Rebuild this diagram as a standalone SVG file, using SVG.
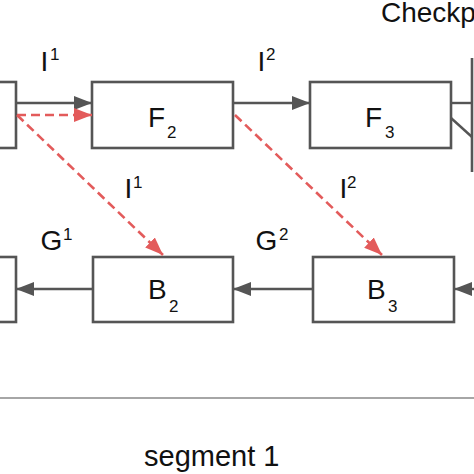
<svg xmlns="http://www.w3.org/2000/svg" width="474" height="474" viewBox="0 0 474 474">
<style>
.box{fill:#fff;stroke:#555;stroke-width:2.6}
.solid{fill:none;stroke:#555;stroke-width:2.4}
.dash{fill:none;stroke:#e35b5b;stroke-width:2.6;stroke-dasharray:9 5}
.lbl{font-family:"Liberation Sans",Arial,sans-serif;font-size:28px;fill:#111}
.sm{font-family:"Liberation Sans",Arial,sans-serif;font-size:17px;fill:#111}
</style>
<defs>
<marker id="ag" markerUnits="userSpaceOnUse" markerWidth="20" markerHeight="14" refX="18" refY="7" orient="auto">
<path d="M0,0 L18,7 L0,14 Z" fill="#555"/>
</marker>
<marker id="ar" markerUnits="userSpaceOnUse" markerWidth="20" markerHeight="14" refX="18" refY="7" orient="auto">
<path d="M0,0 L18,7 L0,14 Z" fill="#e35b5b"/>
</marker>
</defs>
<rect width="474" height="474" fill="#fff"/>
<g id="F1"><rect class="box" x="-10" y="82" width="26" height="66"/></g>
<g id="F2"><rect class="box" x="92" y="82" width="141" height="66"/><text class="lbl" x="148" y="127">F</text><text class="sm" x="167" y="138">2</text></g>
<g id="F3"><rect class="box" x="310" y="82" width="141" height="66"/><text class="lbl" x="365" y="127">F</text><text class="sm" x="385" y="138">3</text></g>
<g id="B1"><rect class="box" x="-10" y="257" width="26" height="65"/></g>
<g id="B2"><rect class="box" x="93" y="257" width="140" height="65"/><text class="lbl" x="148" y="299">B</text><text class="sm" x="169" y="312">2</text></g>
<g id="B3"><rect class="box" x="313" y="257" width="141" height="65"/><text class="lbl" x="367" y="299">B</text><text class="sm" x="388" y="312">3</text></g>
<g id="checkpoint"><line x1="472" y1="58" x2="472" y2="172" stroke="#555" stroke-width="2.6"/><text class="lbl" x="381" y="22" style="font-size:28px">Checkpoint</text></g>
<g id="connectors">
<line class="solid" x1="16" y1="103" x2="92" y2="103" marker-end="url(#ag)"/>
<line class="solid" x1="233" y1="103" x2="310" y2="103" marker-end="url(#ag)"/>
<line class="solid" x1="451" y1="103" x2="472" y2="103"/>
<line class="solid" x1="451" y1="118" x2="472" y2="137"/>
<line class="solid" x1="93" y1="289" x2="16" y2="289" marker-end="url(#ag)"/>
<line class="solid" x1="313" y1="289" x2="233" y2="289" marker-end="url(#ag)"/>
<line class="solid" x1="480" y1="289" x2="454" y2="289" marker-end="url(#ag)"/>
<line class="dash" x1="17" y1="115" x2="92" y2="115" marker-end="url(#ar)"/>
<line class="dash" x1="17" y1="115" x2="163" y2="255" marker-end="url(#ar)"/>
<line class="dash" x1="235" y1="115" x2="382" y2="255" marker-end="url(#ar)"/>
</g>
<g id="labels">
<text class="lbl" x="40.5" y="71">I</text><text class="sm" x="50" y="60">1</text>
<text class="lbl" x="257.5" y="71">I</text><text class="sm" x="266" y="60">2</text>
<text class="lbl" x="124.5" y="198">I</text><text class="sm" x="133" y="188">1</text>
<text class="lbl" x="339.5" y="198">I</text><text class="sm" x="347" y="188">2</text>
<text class="lbl" x="40.5" y="250">G</text><text class="sm" x="63" y="240">1</text>
<text class="lbl" x="255.5" y="250">G</text><text class="sm" x="279" y="240">2</text>
</g>
<line x1="0" y1="398" x2="474" y2="398" stroke="#888" stroke-width="1.6"/>
<text class="lbl" x="144" y="466" style="font-size:29px">segment 1</text>
</svg>
